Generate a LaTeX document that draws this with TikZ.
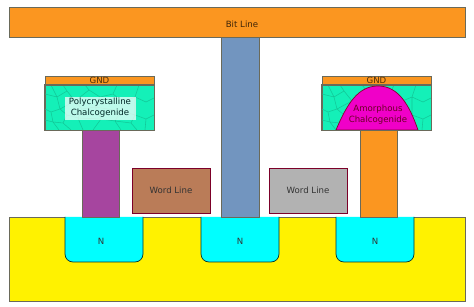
\documentclass[tikz,border=0pt]{standalone}
\usepackage{fontspec}
\setmainfont{DejaVu Sans}
\definecolor{barorange}{HTML}{FB9620}
\definecolor{substrate}{HTML}{FFF200}
\definecolor{well}{HTML}{00FFFF}
\definecolor{viablue}{HTML}{7295BF}
\definecolor{plugpurple}{HTML}{A6459F}
\definecolor{wordbrown}{HTML}{BA7C58}
\definecolor{wordgrey}{HTML}{B2B2B2}
\definecolor{crystal}{HTML}{14F0B8}
\definecolor{grain}{HTML}{12C898}
\definecolor{amorph}{HTML}{F000C8}
\definecolor{edge}{HTML}{6A6A5A}
\tikzset{
  part/.style={draw=edge,line width=0.7pt},
  lbl/.style={font=\fontsize{8.6}{11}\selectfont,text=black!80,align=center,inner sep=0pt},
  contact/.style={part,fill=barorange,minimum width=109pt,minimum height=9pt,inner sep=0pt},
  gst/.style={part,fill=crystal,minimum width=109pt,minimum height=45pt,inner sep=0pt},
  wordline/.style={part,minimum width=78pt,minimum height=45pt,inner sep=0pt},
  grainline/.style={draw=grain,line width=0.55pt}
}
% grain boundaries of a 109 x 45 chalcogenide block, origin at its upper left corner
\newcommand{\grains}[2]{%
  \begin{scope}[shift={(#1,#2)}]
    \clip (0,0) rectangle (109,45);
    \draw[grainline]
      (0,35) -- (8,37) -- (14,45) (8,37) -- (6,27) -- (0,24)
      (6,27) -- (15,24) -- (22,30) -- (18,38) -- (8,37) (18,38) -- (26,45)
      (22,30) -- (33,33) -- (38,45) (33,33) -- (37,24) -- (30,16) -- (15,24)
      (15,24) -- (12,12) -- (0,9) (12,12) -- (22,6) -- (30,16) (22,6) -- (18,0)
      (12,12) -- (6,0) (37,24) -- (50,22) -- (55,12) -- (44,5) -- (30,16)
      (44,5) -- (40,0) (55,12) -- (68,9) -- (72,0) (68,9) -- (78,17) -- (90,12) -- (94,0)
      (50,22) -- (56,34) -- (48,45) (56,34) -- (70,36) -- (76,45) (70,36) -- (76,26) -- (78,17)
      (76,26) -- (90,30) -- (90,12) (90,30) -- (86,38) -- (92,45) (86,38) -- (70,36)
      (90,30) -- (101,34) -- (109,30) (101,34) -- (100,45) (90,12) -- (101,17) -- (109,13)
      (56,34) -- (33,33) (50,22) -- (76,26);
  \end{scope}}
\begin{document}
\begin{tikzpicture}[x=1pt,y=-1pt]
  \useasboundingbox (0,0) rectangle (474,307);

  % substrate and source/drain wells
  \node[part,fill=substrate,minimum width=456pt,minimum height=84pt,inner sep=0pt] (sub) at (237,259) {};
  \foreach \nm/\x/\lx in {wa/65/101,wb/201/240,wc/336/375}{
    \draw[part,draw=black!60!teal,fill=well,rounded corners=8pt] (\x,217) -- (\x,262) -- (\x+78,262) -- (\x+78,217);
    \node[lbl] (\nm) at (\lx,241) {N};
  }

  % vertical plugs
  \node[part,fill=plugpurple,minimum width=37pt,minimum height=87pt,inner sep=0pt] (plugl) at (100.5,173.5) {};
  \node[part,fill=barorange,minimum width=37pt,minimum height=87pt,inner sep=0pt] (plugr) at (378.5,173.5) {};
  \node[part,fill=viablue,minimum width=38pt,minimum height=180pt,inner sep=0pt] (via) at (240,127) {};

  % bit line
  \node[part,fill=barorange,minimum width=456pt,minimum height=30pt,inner sep=0pt] (bit) at (237,22) {};
  \node[lbl,text=black!75!barorange] at (242,24) {Bit Line};

  % word lines
  \node[wordline,fill=wordbrown,draw=black!35!purple] (wl) at (171,190.5) {};
  \node[lbl] at (wl) {Word Line};
  \node[wordline,fill=wordgrey,draw=black!35!purple] (wr) at (308,190.5) {};
  \node[lbl] at (wr) {Word Line};

  % crystalline cell
  \node[gst] (gl) at (99.5,107.5) {};
  \grains{45}{85}
  \node[contact] (gndl) at (99.5,80.5) {};
  \node[lbl,text=black!70!barorange] at (gndl) {GND};
  \draw[part,fill=none] (gl.north west) rectangle (gl.south east);
  \fill[white,opacity=0.72] (65,97) rectangle (136,120);
  \node[lbl,text=black!70!teal] (polyt) at (100,108) {Polycrystalline\\ Chalcogenide};

  % amorphous cell
  \node[gst] (gr) at (376.5,107.5) {};
  \grains{322}{85}
  \node[contact] (gndr) at (376.5,80.5) {};
  \node[lbl,text=black!70!barorange] at (gndr) {GND};
  \draw[part,fill=amorph,draw=black!30!purple]
    (336,130) .. controls (347,104) and (358,86) .. (378,86)
    .. controls (398,86) and (409,104) .. (418,130) -- cycle;
  \draw[part,fill=none] (gr.north west) rectangle (gr.south east);
  \node[lbl,text=black!45!purple] (amt) at (378,114.5) {Amorphous\\ Chalcogenide};
\end{tikzpicture}
\end{document}
